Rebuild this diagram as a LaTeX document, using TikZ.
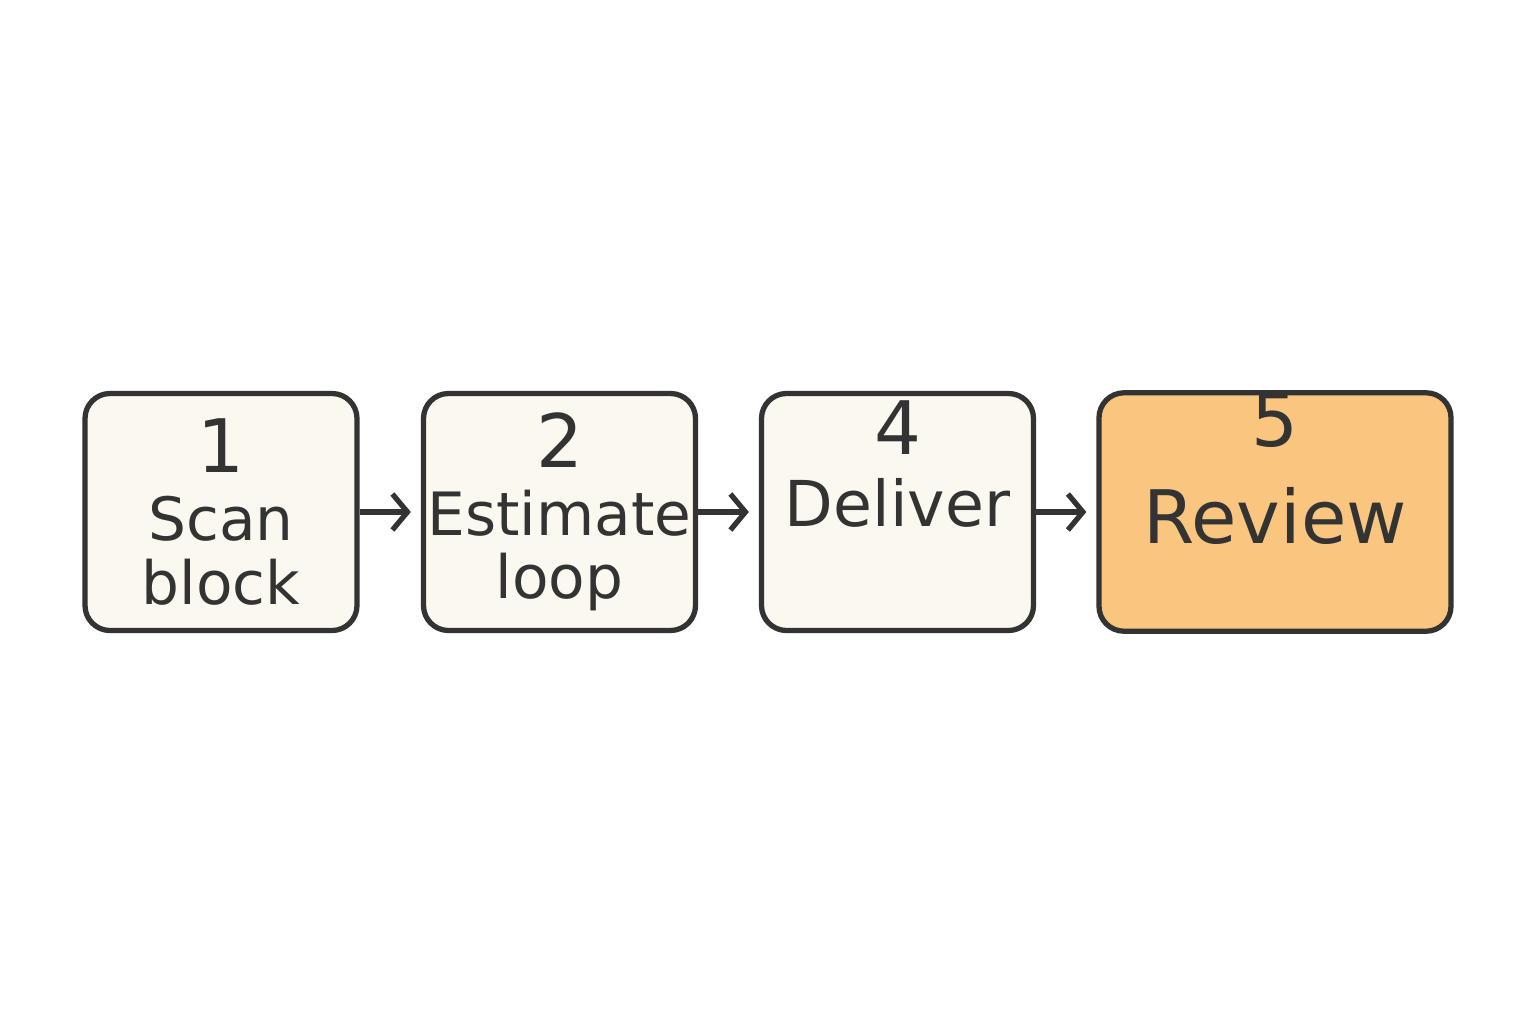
\documentclass[tikz,border=0pt]{standalone}
\usepackage{fontspec}
\setmainfont{DejaVu Sans}
\usetikzlibrary{positioning,arrows.meta}
\definecolor{boxfill}{HTML}{FAF8EF}
\definecolor{lastfill}{HTML}{FAC57E}
\definecolor{ink}{HTML}{333333}
\tikzset{
  stepbox/.style={draw=ink,line width=1.5pt,rounded corners=0.25cm,fill=boxfill,
    minimum height=2.37cm,minimum width=2.72cm,align=center,text=ink,inner sep=0pt,
    font=\fontsize{17}{18}\selectfont},
  flow/.style={draw=ink,line width=1.5pt,shorten >=0.1cm,
    -{Straight Barb[length=0.15cm,width=0.36cm,line width=1.5pt]}}
}
\begin{document}
\begin{tikzpicture}
\useasboundingbox (0,0) rectangle (15.36,10.24);
\node[stepbox] (scan) at (2.21,5.12) {\fontsize{21}{21}\selectfont 1\\[0.05cm]Scan\\block};
\node[stepbox] (estimate) at (5.595,5.12) {\fontsize{21}{21}\selectfont 2\\[0.05cm]Estimate\\loop};
\node[stepbox,font=\fontsize{18}{19}\selectfont] (deliver) at (8.975,5.12) {\fontsize{21}{21}\selectfont 4\\[0.05cm]Deliver\\[0.3cm]};
\node[stepbox,fill=lastfill,minimum width=3.52cm,font=\fontsize{21}{22}\selectfont] (review) at (12.75,5.12) {5\\[0.2cm]Review\\[0.1cm]};
\draw[flow] (scan) -- (estimate);
\draw[flow] (estimate) -- (deliver);
\draw[flow] (deliver) -- (review);
\end{tikzpicture}
\end{document}
